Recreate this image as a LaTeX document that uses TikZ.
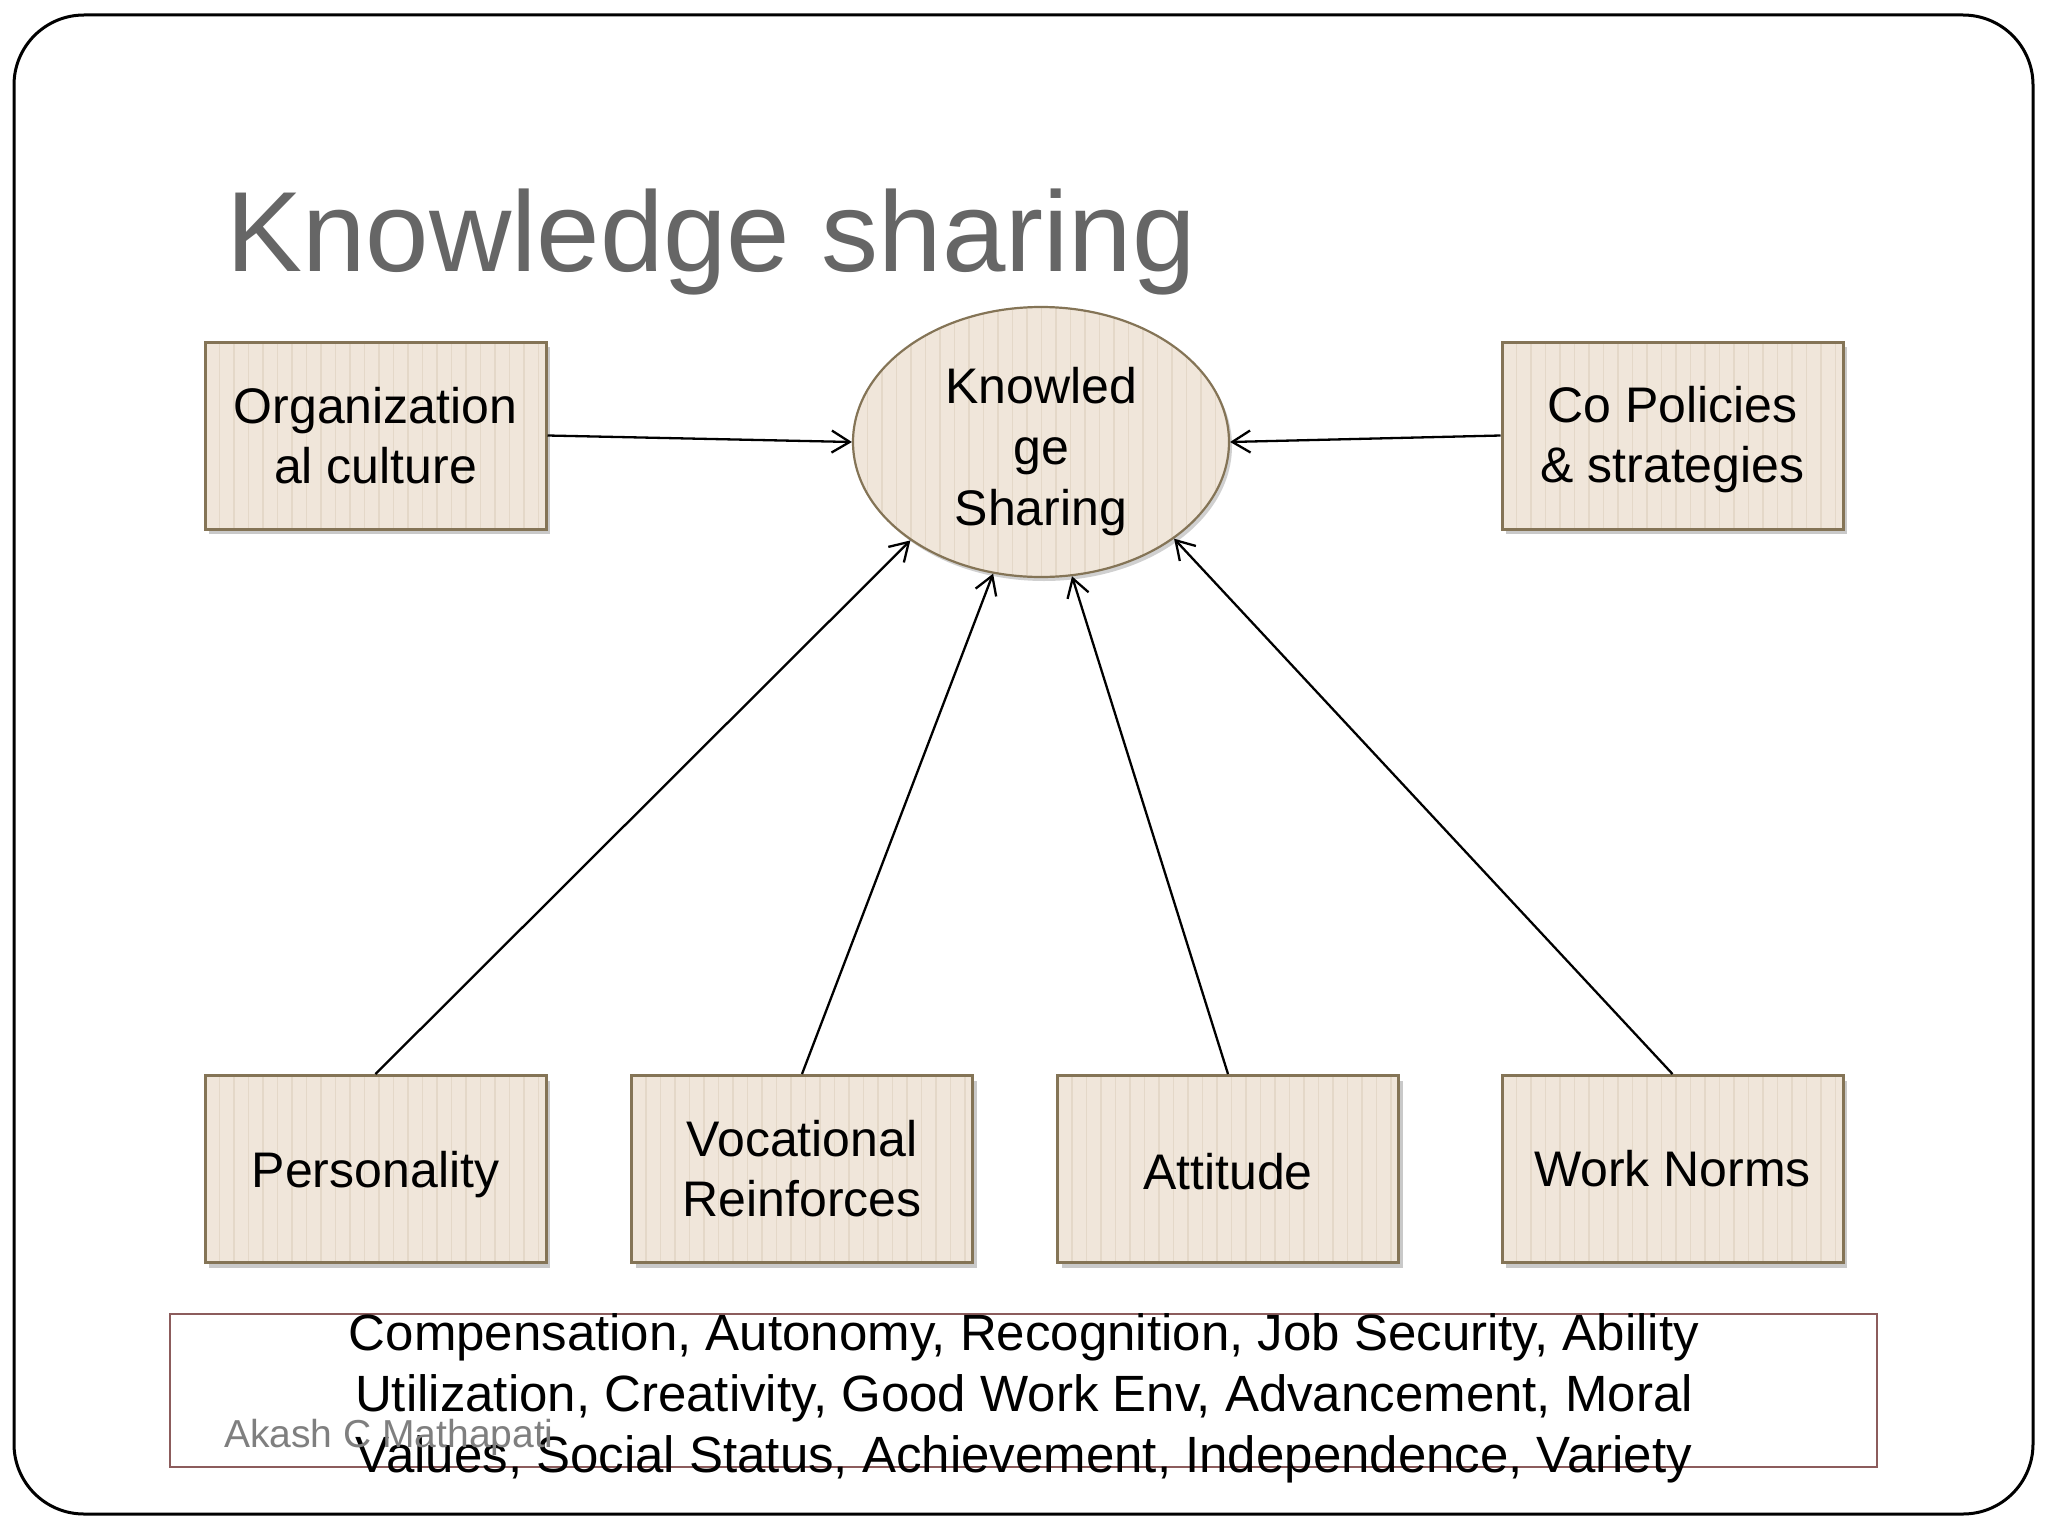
\documentclass[tikz,border=0pt]{standalone}
\usepackage{fontspec}
\setmainfont{Liberation Sans}
\usetikzlibrary{arrows.meta,shapes.geometric,shadows}
\definecolor{boxfill}{HTML}{F0E6DA}
\definecolor{boxstripe}{HTML}{E4D8C8}
\definecolor{boxline}{HTML}{847456}
\definecolor{notesline}{HTML}{8C5C5C}
\definecolor{titlegray}{HTML}{666666}
\definecolor{authgray}{HTML}{7F7F7F}
\tikzset{
  stripes/.style={path picture={
    \foreach \k in {1,...,26}{
      \draw[boxstripe,line width=1.6pt]
        ([xshift=\k*14.5pt]path picture bounding box.south west) --
        ([xshift=\k*14.5pt]path picture bounding box.north west);}}},
  factorbox/.style={rectangle, draw=boxline, line width=3pt, fill=boxfill, stripes,
    minimum width=341pt, minimum height=187pt, inner sep=0pt, align=center,
    font=\fontsize{50}{60}\selectfont,
    drop shadow={shadow xshift=4pt, shadow yshift=-5pt, opacity=0.35, fill=black!60}},
  boxtext/.style={align=center, inner sep=0pt, font=\fontsize{50}{60}\selectfont},
  centerell/.style={ellipse, draw=boxline, line width=2.2pt, fill=boxfill, stripes,
    minimum width=376pt, minimum height=270pt, inner sep=0pt,
    drop shadow={shadow xshift=3pt, shadow yshift=-4pt, opacity=0.3, fill=black!60}},
  link/.style={line width=2.3pt, -{Straight Barb[length=18pt,width=22pt]}}
}
\begin{document}
\begin{tikzpicture}[x=1pt,y=-1pt]
\useasboundingbox (0,0) rectangle (2048,1536);
\fill[white] (0,0) rectangle (2048,1536);
\draw[line width=3pt, rounded corners=70pt] (14,15) rectangle (2033,1514);

\node[anchor=base west, inner sep=0pt, text=titlegray, font=\fontsize{114}{130}\selectfont] (title) at (226,271) {Knowledge sharing};

\node[factorbox] (org) at (375.5,435.5) {Organization\\al culture};
\node[factorbox] (pol) at (1672.5,435.5) {};
\node[boxtext] (poltext) at (1672.5,440) {Co Policies\\\& strategies};
\node[centerell] (ks) at (1041,442) {};
\node[boxtext, font=\fontsize{50}{61}\selectfont] (kstext) at (1041,452) {Knowled\\ge\\Sharing};

\node[factorbox] (per) at (375.5,1169) {};
\node[boxtext] (pertext) at (375.5,1175) {Personality};
\node[factorbox] (voc) at (802,1169) {Vocational\\Reinforces};
\node[factorbox] (att) at (1228,1169) {};
\node[boxtext] (atttext) at (1228,1172) {Attitude};
\node[factorbox] (wn) at (1672.5,1169) {Work Norms};

\draw[link] (org.east) -- (ks.west);
\draw[link] (pol.west) -- (ks.east);
\draw[link] (per.north) -- (ks.217);
\draw[link] (voc.north) -- (ks.250);
\draw[link] (att.north) -- (ks.283);
\draw[link] (wn.north) -- (ks.324);

\node[draw=notesline, line width=2.5pt, minimum width=1707pt, minimum height=153pt, inner sep=0pt] (notes) at (1023.5,1390.5) {};
\node[align=center, inner sep=0pt, font=\fontsize{51}{61}\selectfont] (notestext) at (1024,1398) {Compensation, Autonomy, Recognition, Job Security, Ability\\Utilization, Creativity, Good Work Env, Advancement, Moral\\Values, Social Status, Achievement, Independence, Variety};

\node[anchor=base west, inner sep=0pt, text=authgray, font=\fontsize{39}{45}\selectfont] (author) at (224,1447) {Akash C Mathapati};
\end{tikzpicture}
\end{document}
